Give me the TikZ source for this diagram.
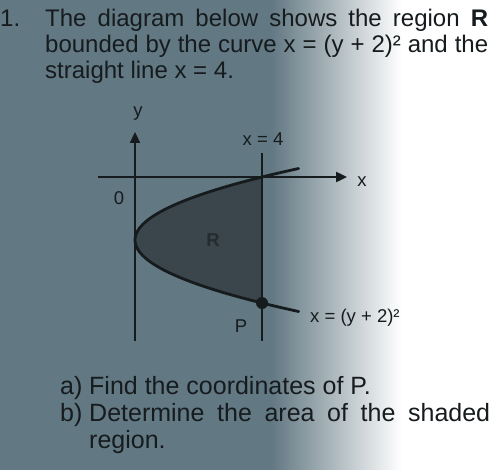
\documentclass[tikz,border=0pt]{standalone}
\usepackage{fontspec}
\setmainfont{Liberation Sans}
\usetikzlibrary{arrows.meta}
\definecolor{bg}{RGB}{98,120,130}
\definecolor{ink}{RGB}{22,27,30}
\definecolor{regfill}{RGB}{58,70,76}
\definecolor{rink}{RGB}{36,44,48}
\pgfdeclarehorizontalshading{bgshade}{100bp}{color(0bp)=(bg); color(52bp)=(bg); color(65bp)=(white); color(100bp)=(white)}
\begin{document}
\begin{tikzpicture}[x=1pt,y=-1pt,
  txt/.style={font=\fontsize{24}{28}\selectfont, text=ink, inner sep=0pt, anchor=base west},
  txtb/.style={font=\fontsize{25}{28}\selectfont, text=ink, inner sep=0pt, anchor=base west},
  lab/.style={font=\fontsize{18.5}{20}\selectfont, text=ink, inner sep=0pt},
  axis/.style={draw=ink, line width=2pt, -{Triangle[length=11pt,width=10pt]}},
  vline/.style={draw=ink, line width=2.8pt},
  curve/.style={draw=ink, line width=2.8pt, line cap=round},
  dot/.style={circle, fill=ink, inner sep=0pt, minimum size=12pt}]
\useasboundingbox (0,0) rectangle (502,469);
\clip (0,0) rectangle (502,469);
\shade[shading=bgshade] (0,0) rectangle (502,469);
% top text
\node[txt] (n1) at (0,26) {1.};
\node[txt] (l1) at (45,26) {\makebox[443pt][s]{The diagram below shows the region \textbf{R}}};
\node[txt] (l2) at (45,52) {\makebox[443pt][s]{bounded by the curve x = (y + 2)² and the}};
\node[txt] (l3) at (45,78) {straight line x = 4.};
% graph
\begin{scope}[shift={(135,177)}, x=31.75pt, y=31.5pt]
  \coordinate (O) at (0,0);
  \coordinate (ybot) at (0,-5.2);
  \coordinate (ytop) at (0,1.43);
  \coordinate (xl) at (-1.17,0);
  \coordinate (xr) at (6.68,0);
  \coordinate (vtop) at (4,0.76);
  \coordinate (vbot) at (4,-5.2);
  \fill[regfill] plot[domain=-4:0, samples=60] ({(\x+2)^2},\x) -- cycle;
  \draw[axis] (ybot) -- (ytop);
  \draw[axis] (xl) -- (xr);
  \draw[vline] (vbot) -- (vtop);
  \draw[curve] plot[domain=-4.27:0.27, samples=80] ({(\x+2)^2},\x);
  \node[dot] (Pdot) at (4,-4) {};
\end{scope}
\node[lab] (ylab) at (138,114) {y};
\node[lab] (x4) at (263,139) {x = 4};
\node[lab] (xlab) at (362,182) {x};
\node[lab] (zero) at (119,198) {0};
\node[lab, font=\bfseries\fontsize{18.5}{20}\selectfont, text=rink] (R) at (213,240) {R};
\node[lab] (Plab) at (241,326) {P};
\node[lab, anchor=west] (curvelab) at (310,318) {x = (y + 2)²};
% bottom text
\node[txtb] (qa) at (60,394) {a)};
\node[txtb] (ta) at (89,394) {Find the coordinates of P.};
\node[txtb] (qb) at (60,421) {b)};
\node[txtb] (tb) at (89,421) {\makebox[401pt][s]{Determine the area of the shaded}};
\node[txtb] (tc) at (89,448) {region.};
\end{tikzpicture}
\end{document}
